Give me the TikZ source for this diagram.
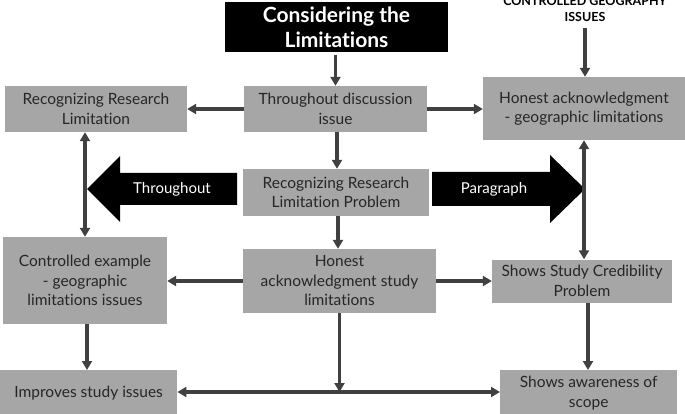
\documentclass[tikz,border=0pt]{standalone}
\usepackage{fontspec}
\setmainfont{Lato}[Ligatures=NoCommon]
\usetikzlibrary{arrows.meta}
\definecolor{boxgray}{HTML}{A6A6A6}
\definecolor{linegray}{HTML}{404040}
\tikzset{
  x=1pt, y=-1pt,
  gbox/.style={fill=boxgray, draw=none, inner sep=0pt, align=center, text=black!85, font=\fontsize{15.5}{19.5}\selectfont},
  conn/.style={draw=linegray, line width=3.2pt, -{Triangle[length=9pt,width=10pt]}},
  conn2/.style={draw=linegray, line width=3.2pt, {Triangle[length=9pt,width=10pt]}-{Triangle[length=9pt,width=10pt]}},
  bigarrow/.style={fill=black},
  wtext/.style={text=white, font=\fontsize{15}{18}\selectfont}
}
\begin{document}
\begin{tikzpicture}
\useasboundingbox (0,0) rectangle (685,414);
% title
\node[fill=black, minimum width=223pt, minimum height=50pt, inner sep=0pt, align=center,
  text=white, font=\bfseries\fontsize{21}{25}\selectfont] (title) at (336.5,27.5) {Considering the\\Limitations};
\node[align=center, font=\bfseries\fontsize{12.5}{16}\selectfont] (geo) at (585,9) {CONTROLLED GEOGRAPHY\\ISSUES};
% boxes
\node[gbox, minimum width=183pt, minimum height=46pt] (disc) at (335.5,109) {Throughout discussion\\issue};
\node[gbox, minimum width=182pt, minimum height=46pt] (reclim) at (96,109) {Recognizing Research\\Limitation};
\node[gbox, minimum width=202pt, minimum height=63pt] (honestgeo) at (584,108.5) {Honest acknowledgment\\- geographic limitations};
\node[gbox, minimum width=186pt, minimum height=47pt] (recprob) at (336,192.5) {Recognizing Research\\Limitation Problem};
\node[gbox, minimum width=164pt, minimum height=87pt] (ctrl) at (85,280.5) {Controlled example\\- geographic\\limitations issues};
\node[gbox, minimum width=193pt, minimum height=64pt] (honeststudy) at (339.5,281) {Honest\\acknowledgment study\\limitations};
\node[gbox, minimum width=180pt, minimum height=43pt] (cred) at (582,281) {Shows Study Credibility\\Problem};
\node[gbox, minimum width=177pt, minimum height=46pt, anchor=north west] (improve) at (0,370) {Improves study issues};
\node[gbox, minimum width=177pt, minimum height=46pt, anchor=north west] (aware) at (500,370) {Shows awareness of\\scope};
% big black arrows
\fill[bigarrow] (237,173) -- (120,173) -- (120,156) -- (87,189) -- (120,222) -- (120,205) -- (237,205) -- cycle;
\node[wtext] (thr) at (172,189) {Throughout};
\fill[bigarrow] (432,172) -- (550,172) -- (550,155) -- (585,189) -- (550,223) -- (550,206) -- (432,206) -- cycle;
\node[wtext] (par) at (494,189) {Paragraph};
% connectors
\draw[conn] (title.south -| disc.north) ++(0,2) -- (disc.north);
\draw[conn] (geo.south) ++(0,3) -- (geo.south |- honestgeo.north);
\draw[conn] (disc.west) -- (reclim.east);
\draw[conn] (disc.east) -- (honestgeo.west |- disc.east);
\draw[conn] ([xshift=1.5pt]disc.south) -- ([xshift=1.5pt]disc.south |- recprob.north);
\draw[conn2] ([xshift=-11pt]reclim.south) -- ([xshift=-11pt]reclim.south |- ctrl.north);
\draw[conn2] (honestgeo.south) -- (honestgeo.south |- cred.north);
\draw[conn] ([xshift=2pt]recprob.south) -- ([xshift=2pt]recprob.south |- honeststudy.north);
\draw[conn] (honeststudy.west) -- (ctrl.east |- honeststudy.west);
\draw[conn] (honeststudy.east) -- (cred.west |- honeststudy.east);
\draw[conn] ([xshift=6pt]cred.south) -- ([xshift=6pt]cred.south |- aware.north);
\draw[conn] ([xshift=2pt]ctrl.south) -- ([xshift=2pt]ctrl.south |- improve.north);
\coordinate (mid) at (honeststudy.south |- 0,392);
\draw[conn2] (improve.east |- mid) -- (aware.west |- mid);
\draw[conn] (honeststudy.south) -- (mid);
\end{tikzpicture}
\end{document}
